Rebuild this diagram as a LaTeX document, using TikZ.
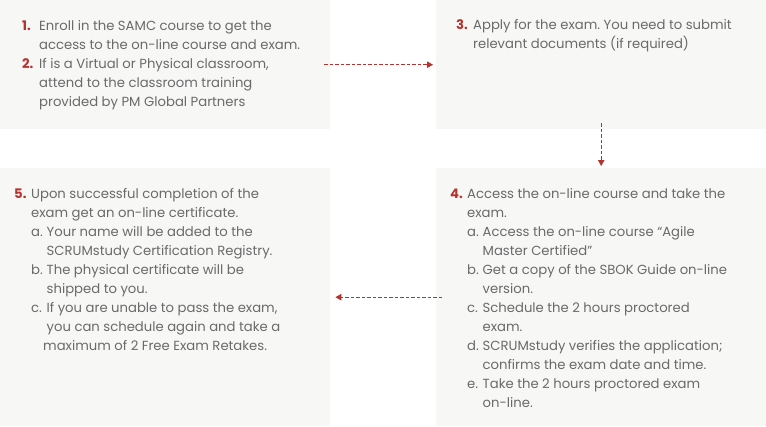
\documentclass[tikz,border=0pt]{standalone}
\usepackage{fontspec}
\setmainfont{Poppins}
\usepackage{xcolor}
\usetikzlibrary{arrows.meta}
\definecolor{boxgray}{HTML}{F7F7F6}
\definecolor{textgray}{HTML}{6A6A6A}
\definecolor{stepred}{HTML}{B3342F}
\newcommand{\stepno}[1]{\makebox[17pt][l]{\color{stepred}\bfseries #1}}
\newcommand{\subno}[1]{\hspace*{17pt}\makebox[15.5pt][l]{#1}}
\newcommand{\ind}[1]{\hspace*{#1pt}}
\frenchspacing

\begin{document}
\begin{tikzpicture}[x=1pt,y=-1pt,
    box/.style={fill=boxgray, draw=none, anchor=north west, inner sep=0pt},
    txt/.style={anchor=north west, inner sep=0pt, align=left, text=textgray,
        font=\fontsize{13.2}{19}\selectfont},
    flow/.style={draw=stepred, line width=0.8pt, dash pattern=on 3.5pt off 2pt,
        -{Triangle[length=6pt,width=6.5pt]}}]
    \useasboundingbox (0,0) rectangle (766,426);
    % the four step boxes
    \node[box, minimum width=330, minimum height=129] (b1) at (0,0) {};
    \node[box, minimum width=330, minimum height=129] (b2) at (436,0) {};
    \node[box, minimum width=330, minimum height=258] (b4) at (436,168) {};
    \node[box, minimum width=330, minimum height=258] (b5) at (0,168) {};
    % texts
    \node[txt] (t1) at (22,20) {\stepno{1.}Enroll in the SAMC course to get the\\
        \ind{17}access to the on-line course and exam.\\
        \stepno{2.}If is a Virtual or Physical classroom,\\
        \ind{17}attend to the classroom training\\
        \ind{17}provided by PM Global Partners};
    \node[txt] (t2) at (456,19) {\stepno{3.}Apply for the exam. You need to submit\\
        \ind{17}relevant documents (if required)};
    \node[txt] (t4) at (450,188) {\stepno{4.}Access the on-line course and take the\\
        \ind{17}exam.\\
        \subno{a.}Access the on-line course ``Agile\\
        \ind{32.5}Master Certified''\\
        \subno{b.}Get a copy of the SBOK Guide on-line\\
        \ind{32.5}version.\\
        \subno{c.}Schedule the 2 hours proctored\\
        \ind{32.5}exam.\\
        \subno{d.}SCRUMstudy verifies the application;\\
        \ind{32.5}confirms the exam date and time.\\
        \subno{e.}Take the 2 hours proctored exam\\
        \ind{32.5}on-line.};
    \node[txt] (t5) at (14,188) {\stepno{5.}Upon successful completion of the\\
        \ind{17}exam get an on-line certificate.\\
        \subno{a.}Your name will be added to the\\
        \ind{32.5}SCRUMstudy Certification Registry.\\
        \subno{b.}The physical certificate will be\\
        \ind{32.5}shipped to you.\\
        \subno{c.}If you are unable to pass the exam,\\
        \ind{32.5}you can schedule again and take a\\
        \ind{29}maximum of 2 Free Exam Retakes.};
    % connectors
    \draw[flow] ([xshift=-6pt]b1.east) -- ([xshift=-3pt]b2.west);
    \draw[flow] ([yshift=6pt]b2.south) -- ([yshift=2pt]b4.north);
    \draw[flow] ([xshift=6pt]b4.west) -- ([xshift=5pt]b5.east);
\end{tikzpicture}
\end{document}
